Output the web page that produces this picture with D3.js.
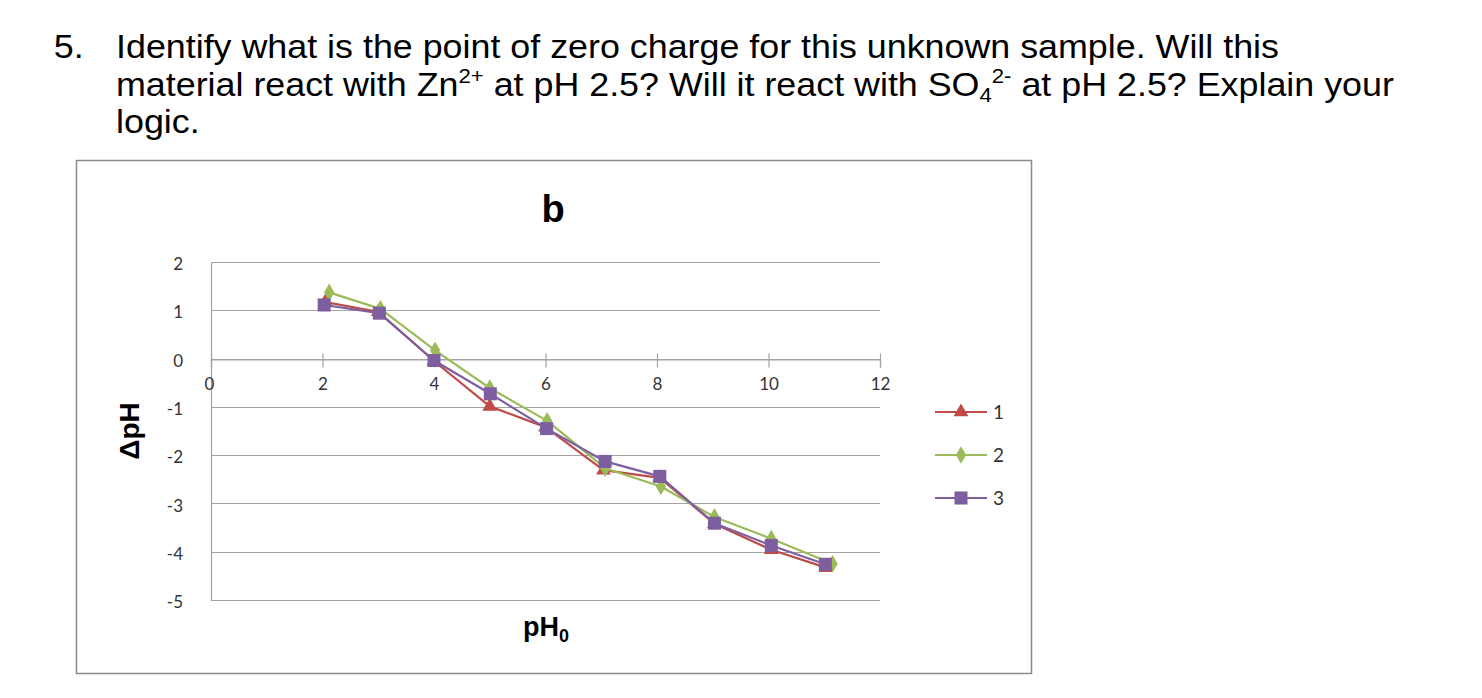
<!DOCTYPE html>
<html>
<head>
<meta charset="utf-8">
<script src="https://cdn.jsdelivr.net/npm/d3@7/dist/d3.min.js"></script>
<style>
  html, body { margin: 0; padding: 0; background: #fff; }
  svg { display: block; }
</style>
</head>
<body>
<svg id="chart" width="1482" height="698"></svg>
<script>
// ---------- data ----------
const seriesNames = ["1", "2", "3"];
const xs1 = [2.05, 3.0, 4.0, 5.0, 6.0, 7.04, 8.05, 9.03, 10.05, 11.03];
const ys1 = [1.17, 0.97, -0.05, -0.99, -1.42, -2.31, -2.47, -3.42, -3.96, -4.33];
const xs2 = [2.12, 3.04, 4.02, 5.0, 6.03, 7.07, 8.07, 9.03, 10.05, 11.15];
const ys2 = [1.37, 1.03, 0.17, -0.61, -1.29, -2.27, -2.65, -3.28, -3.73, -4.25];
const xs3 = [2.03, 3.02, 4.0, 5.01, 6.02, 7.07, 8.05, 9.03, 10.05, 11.02];
const ys3 = [1.11, 0.94, -0.04, -0.73, -1.45, -2.13, -2.44, -3.41, -3.87, -4.26];
const xTicks = [0, 2, 4, 6, 8, 10, 12];
const yTicks = [2, 1, 0, -1, -2, -3, -4, -5];
const colors = ["#BE4B48", "#9BBB59", "#7D5FA0"];
const symbols = [d3.symbolTriangle, d3.symbolDiamond, d3.symbolSquare];
const symSizes = [95, 90, 170];

const svg = d3.select("#chart");
const FONT = "Lato, 'Open Sans', 'Liberation Sans', sans-serif";

// ---------- question text ----------
const q = svg.append("g").attr("font-family", "'Liberation Sans', Arial, sans-serif")
  .attr("font-size", 34).attr("fill", "#000")
  .attr("transform", "translate(116,0) scale(1.054,1) translate(-116,0)");
q.append("text").attr("x", 57).attr("y", 58).text("5.");
q.append("text").attr("x", 116).attr("y", 58)
  .text("Identify what is the point of zero charge for this unknown sample. Will this");
const l2 = q.append("text").attr("x", 116).attr("y", 96);
l2.append("tspan").text("material react with Zn");
l2.append("tspan").attr("font-size", 21).attr("dy", -13).text("2+");
l2.append("tspan").attr("dy", 13).text(" at pH 2.5? Will it react with SO");
l2.append("tspan").attr("font-size", 21).attr("dy", 6).text("4");
l2.append("tspan").attr("font-size", 21).attr("dy", -19).text("2-");
l2.append("tspan").attr("dy", 13).text(" at pH 2.5? Explain your");
q.append("text").attr("x", 116).attr("y", 133).text("logic.");

// ---------- chart frame ----------
svg.append("rect").attr("x", 76.5).attr("y", 160.5).attr("width", 955).attr("height", 513)
  .attr("fill", "#fff").attr("stroke", "#8a8a8a").attr("stroke-width", 1.5);

const x = d3.scaleLinear().domain([0, 12]).range([211, 880]);
const y = d3.scaleLinear().domain([-5, 2]).range([600, 262]);

// gridlines
svg.append("g").selectAll("line").data(yTicks).join("line")
  .attr("x1", x(0)).attr("x2", x(12))
  .attr("y1", d => Math.round(y(d)) + 0.5).attr("y2", d => Math.round(y(d)) + 0.5)
  .attr("stroke", "#a3a3a3").attr("stroke-width", 1.2);

// y axis
const yAxis = svg.append("g").attr("transform", `translate(${x(0)},0)`)
  .call(d3.axisLeft(y).tickValues(yTicks).tickSize(0).tickPadding(28).tickFormat(d => String(d)));
yAxis.select(".domain").attr("stroke", "#a3a3a3").attr("stroke-width", 1.2);
yAxis.selectAll("text").attr("font-family", FONT).attr("font-size", 17).attr("fill", "#333")
  .attr("dy", "0.45em");

// x axis at y=0
const xAxis = svg.append("g").attr("transform", `translate(0,${Math.round(y(0)) + 0.5})`)
  .call(d3.axisBottom(x).tickValues(xTicks).tickSize(8).tickPadding(0).tickFormat(d => String(d)));
xAxis.select(".domain").attr("stroke", "#a3a3a3").attr("stroke-width", 1.2);
xAxis.selectAll(".tick line").attr("y1", -6).attr("y2", 8).attr("stroke", "#a3a3a3").attr("stroke-width", 1.2);
xAxis.selectAll(".tick text").attr("font-family", FONT).attr("font-size", 17).attr("fill", "#333")
  .attr("y", 30).attr("dy", 0);
xAxis.selectAll(".tick").filter(d => d === 0).select("text").attr("dx", -2);

// series
const allData = [
  xs1.map((v, i) => [v, ys1[i]]),
  xs2.map((v, i) => [v, ys2[i]]),
  xs3.map((v, i) => [v, ys3[i]])
];
const line = d3.line().x(d => x(d[0])).y(d => y(d[1]));
allData.forEach((data, si) => {
  const g = svg.append("g");
  g.append("path").datum(data).attr("d", line).attr("fill", "none")
    .attr("stroke", colors[si]).attr("stroke-width", 2.2).attr("stroke-linejoin", "round");
  g.selectAll("path.m").data(data).join("path").attr("class", "m")
    .attr("transform", d => `translate(${x(d[0])},${y(d[1])})`)
    .attr("d", d3.symbol().type(symbols[si]).size(symSizes[si]))
    .attr("fill", colors[si]);
});

// legend
const legY = [412, 455, 498];
seriesNames.forEach((name, i) => {
  const g = svg.append("g").attr("transform", `translate(0,${legY[i]})`);
  g.append("line").attr("x1", 935).attr("x2", 987).attr("y1", 0).attr("y2", 0)
    .attr("stroke", colors[i]).attr("stroke-width", 2.2);
  g.append("path").attr("transform", "translate(961,0)")
    .attr("d", d3.symbol().type(symbols[i]).size(symSizes[i])).attr("fill", colors[i]);
  g.append("text").attr("x", 993).attr("y", 0).attr("dy", "0.38em")
    .attr("font-family", FONT).attr("font-size", 19).attr("fill", "#333").text(name);
});

// titles
svg.append("text").attr("x", 553).attr("y", 222).attr("text-anchor", "middle")
  .attr("font-family", "'Liberation Sans', Arial, sans-serif").attr("font-weight", "bold")
  .attr("font-size", 38).attr("fill", "#000").text("b");

const xt = svg.append("text").attr("x", 546).attr("y", 636).attr("text-anchor", "middle")
  .attr("font-family", "'Liberation Sans', Arial, sans-serif").attr("font-weight", "bold")
  .attr("font-size", 27).attr("fill", "#000");
xt.append("tspan").text("pH");
xt.append("tspan").attr("font-size", 18).attr("dy", 6).text("0");

svg.append("text").attr("transform", `translate(139,431) rotate(-90)`).attr("text-anchor", "middle")
  .attr("font-family", "'Liberation Sans', Arial, sans-serif").attr("font-weight", "bold")
  .attr("font-size", 28).attr("fill", "#000").text("ΔpH");
</script>
</body>
</html>
